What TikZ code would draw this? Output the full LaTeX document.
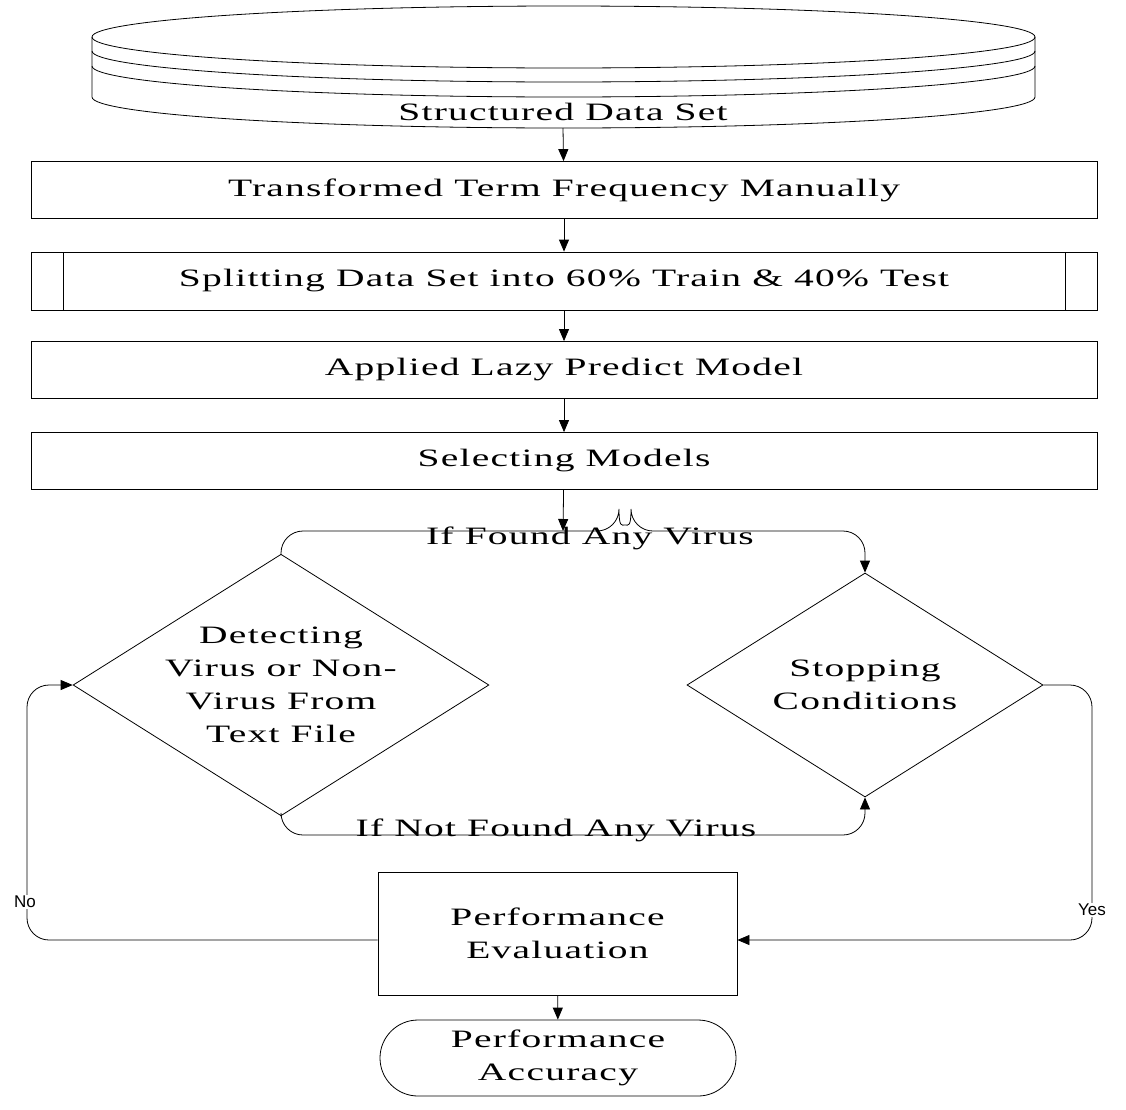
\documentclass[tikz,border=0pt]{standalone}
\usepackage{fontspec}
\setmainfont{Liberation Serif}[FakeStretch=1.58,LetterSpace=5]
\newfontfamily\yesno{Liberation Sans}
\usetikzlibrary{shapes.geometric,arrows.meta}
\begin{document}
\begin{tikzpicture}[x=1pt,y=-1pt,
  line width=0.8pt,
  arr/.style={-{Triangle[length=12pt,width=10pt]}},
  box/.style={draw,minimum width=1066pt,minimum height=57pt,inner sep=0pt},
  dia/.style={draw,diamond,minimum width=356pt,minimum height=224pt,inner sep=0pt,aspect=1.59},
  lbl/.style={font=\fontsize{25}{30}\selectfont},
  every node/.style={font=\fontsize{25}{33}\selectfont,align=center}]
\useasboundingbox (0,0) rectangle (1126,1109);
% cylinder
\draw (563.5,37) ellipse[x radius=471.5,y radius=31];
\draw (92,51) arc[start angle=180,end angle=0,x radius=471.5,y radius=31];
\draw (92,66) arc[start angle=180,end angle=0,x radius=471.5,y radius=31];
\draw (92,37) -- (92,97) arc[start angle=180,end angle=0,x radius=471.5,y radius=31] -- (1035,37);
\node (ds) at (563,112) {Structured Data Set};
\coordinate (dsb) at (563,128);
\node[box] (b1) at (564,190) {Transformed Term Frequency Manually};
\node[box,minimum height=58pt] (b2) at (564,281) {Splitting Data Set into 60\% Train \& 40\% Test};
\draw (63,252) -- (63,310) (1065,252) -- (1065,310);
\node[box] (b3) at (564,370) {Applied Lazy Predict Model};
\node[box] (b4) at (564,461) {Selecting Models};
\node[dia] (d1) at (281,685) {Detecting\\Virus or Non-\\Virus From\\Text File};
\node[dia] (d2) at (865,685) {Stopping\\Conditions};
\node[draw,minimum width=359pt,minimum height=123pt] (pe) at (557.5,933.5) {Performance\\Evaluation};
\node[draw,rounded corners=38pt,minimum width=356pt,minimum height=76pt,inner sep=0pt] (pa) at (558,1058) {Performance\\Accuracy};
\draw[arr] (dsb) -- (b1);
\draw[arr] (b1) -- (b2);
\draw[arr] (b2) -- (b3);
\draw[arr] (b3) -- (b4);
\coordinate (tj) at (563,531);
\draw[arr] (b4) -- (tj);
\draw[arr,rounded corners=22pt] (d1.north) -- (281,531) -- (619,531) arc[start angle=180,end angle=360,radius=6] -- (865,531) -- (d2.north);
\node[lbl] (t1) at (590,538) {If Found Any Virus};
\draw[arr,rounded corners=22pt] (d1.south) -- (281,835) -- (865,835) -- (d2.south);
\node[lbl] (t2) at (556,830) {If Not Found Any Virus};
\draw[arr,rounded corners=22pt] (d2.east) -- (1092,685) -- (1092,940) -- ([yshift=-6.5pt]pe.east);
\draw[arr,rounded corners=22pt] ([yshift=-6.5pt]pe.west) -- (27,940) -- (27,685) -- (d1.west);
\node[font=\yesno\fontsize{17}{20}\selectfont,fill=white,inner sep=1pt] (yes) at (1092,910) {Yes};
\node[font=\yesno\fontsize{17}{20}\selectfont,fill=white,inner sep=1pt] (no) at (25,902) {No};
\draw[arr] (pe) -- (pa);
\end{tikzpicture}
\end{document}
